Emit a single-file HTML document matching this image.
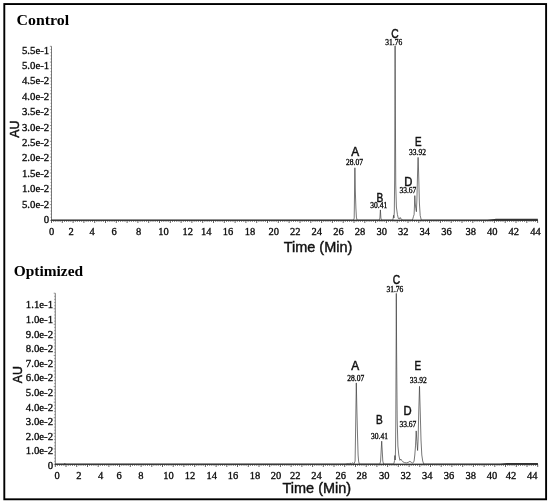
<!DOCTYPE html>
<html><head><meta charset="utf-8"><title>Chromatogram</title>
<style>
html,body{margin:0;padding:0;background:#fff;}
svg{display:block}
.s{font-family:"Liberation Serif",serif;fill:#0a0a0a;stroke:#0a0a0a;stroke-width:0.32}
.h{font-family:"Liberation Sans",sans-serif;fill:#111;stroke:#111;stroke-width:0.3}
.t{font-family:"Liberation Serif",serif;font-weight:bold;font-size:15.2px;fill:#000}
.ax{stroke:#404040;stroke-width:0.7;fill:none}
.tr{stroke:#3c3c3c;stroke-width:0.7;fill:none;stroke-linejoin:round}
</style></head><body>
<svg width="550" height="503" viewBox="0 0 550 503">
<rect x="0" y="0" width="550" height="503" fill="#fff"/>
<rect x="4.3" y="4.05" width="541.8" height="495.25" fill="none" stroke="#000" stroke-width="1.9"/>

<text class="t" style="font-size:15.6px" transform="translate(16.6,25.3) scale(1.015,1)">Control</text>
<text class="t" transform="translate(13.7,276.1) scale(1.015,1)">Optimized</text>
<path class="ax" d="M51.5 46.3 V220.45 H537.6"/>
<path d="M51.5 220.45 v2.5 M62.3 220.45 v2.5 M73.1 220.45 v2.5 M83.9 220.45 v2.5 M94.7 220.45 v2.5 M105.5 220.45 v2.5 M116.3 220.45 v2.5 M127.1 220.45 v2.5 M137.9 220.45 v2.5 M148.7 220.45 v2.5 M159.5 220.45 v2.5 M170.3 220.45 v2.5 M181.1 220.45 v2.5 M191.9 220.45 v2.5 M202.7 220.45 v2.5 M213.5 220.45 v2.5 M224.3 220.45 v2.5 M235.1 220.45 v2.5 M245.9 220.45 v2.5 M256.7 220.45 v2.5 M267.5 220.45 v2.5 M278.3 220.45 v2.5 M289.1 220.45 v2.5 M300.0 220.45 v2.5 M310.8 220.45 v2.5 M321.6 220.45 v2.5 M332.4 220.45 v2.5 M343.2 220.45 v2.5 M354.0 220.45 v2.5 M364.8 220.45 v2.5 M375.6 220.45 v2.5 M386.4 220.45 v2.5 M397.2 220.45 v2.5 M408.0 220.45 v2.5 M418.8 220.45 v2.5 M429.6 220.45 v2.5 M440.4 220.45 v2.5 M451.2 220.45 v2.5 M462.0 220.45 v2.5 M472.8 220.45 v2.5 M483.6 220.45 v2.5 M494.4 220.45 v2.5 M505.2 220.45 v2.5 M516.0 220.45 v2.5 M526.8 220.45 v2.5 M537.6 220.45 v2.5" stroke="#333" stroke-width="0.8" fill="none"/>
<path d="M53.7 220.45 v1.5 M55.8 220.45 v1.5 M58.0 220.45 v1.5 M60.1 220.45 v1.5 M64.5 220.45 v1.5 M66.6 220.45 v1.5 M68.8 220.45 v1.5 M70.9 220.45 v1.5 M75.3 220.45 v1.5 M77.4 220.45 v1.5 M79.6 220.45 v1.5 M81.7 220.45 v1.5 M86.1 220.45 v1.5 M88.2 220.45 v1.5 M90.4 220.45 v1.5 M92.5 220.45 v1.5 M96.9 220.45 v1.5 M99.0 220.45 v1.5 M101.2 220.45 v1.5 M103.4 220.45 v1.5 M107.7 220.45 v1.5 M109.8 220.45 v1.5 M112.0 220.45 v1.5 M114.2 220.45 v1.5 M118.5 220.45 v1.5 M120.6 220.45 v1.5 M122.8 220.45 v1.5 M125.0 220.45 v1.5 M129.3 220.45 v1.5 M131.4 220.45 v1.5 M133.6 220.45 v1.5 M135.8 220.45 v1.5 M140.1 220.45 v1.5 M142.2 220.45 v1.5 M144.4 220.45 v1.5 M146.6 220.45 v1.5 M150.9 220.45 v1.5 M153.0 220.45 v1.5 M155.2 220.45 v1.5 M157.4 220.45 v1.5 M161.7 220.45 v1.5 M163.8 220.45 v1.5 M166.0 220.45 v1.5 M168.2 220.45 v1.5 M172.5 220.45 v1.5 M174.6 220.45 v1.5 M176.8 220.45 v1.5 M179.0 220.45 v1.5 M183.3 220.45 v1.5 M185.4 220.45 v1.5 M187.6 220.45 v1.5 M189.8 220.45 v1.5 M194.1 220.45 v1.5 M196.2 220.45 v1.5 M198.4 220.45 v1.5 M200.6 220.45 v1.5 M204.9 220.45 v1.5 M207.1 220.45 v1.5 M209.2 220.45 v1.5 M211.4 220.45 v1.5 M215.7 220.45 v1.5 M217.9 220.45 v1.5 M220.0 220.45 v1.5 M222.2 220.45 v1.5 M226.5 220.45 v1.5 M228.7 220.45 v1.5 M230.8 220.45 v1.5 M233.0 220.45 v1.5 M237.3 220.45 v1.5 M239.5 220.45 v1.5 M241.6 220.45 v1.5 M243.8 220.45 v1.5 M248.1 220.45 v1.5 M250.3 220.45 v1.5 M252.4 220.45 v1.5 M254.6 220.45 v1.5 M258.9 220.45 v1.5 M261.1 220.45 v1.5 M263.2 220.45 v1.5 M265.4 220.45 v1.5 M269.7 220.45 v1.5 M271.9 220.45 v1.5 M274.0 220.45 v1.5 M276.2 220.45 v1.5 M280.5 220.45 v1.5 M282.7 220.45 v1.5 M284.8 220.45 v1.5 M287.0 220.45 v1.5 M291.3 220.45 v1.5 M293.5 220.45 v1.5 M295.6 220.45 v1.5 M297.8 220.45 v1.5 M302.1 220.45 v1.5 M304.3 220.45 v1.5 M306.4 220.45 v1.5 M308.6 220.45 v1.5 M312.9 220.45 v1.5 M315.1 220.45 v1.5 M317.2 220.45 v1.5 M319.4 220.45 v1.5 M323.7 220.45 v1.5 M325.9 220.45 v1.5 M328.0 220.45 v1.5 M330.2 220.45 v1.5 M334.5 220.45 v1.5 M336.7 220.45 v1.5 M338.8 220.45 v1.5 M341.0 220.45 v1.5 M345.3 220.45 v1.5 M347.5 220.45 v1.5 M349.6 220.45 v1.5 M351.8 220.45 v1.5 M356.1 220.45 v1.5 M358.3 220.45 v1.5 M360.4 220.45 v1.5 M362.6 220.45 v1.5 M366.9 220.45 v1.5 M369.1 220.45 v1.5 M371.2 220.45 v1.5 M373.4 220.45 v1.5 M377.7 220.45 v1.5 M379.9 220.45 v1.5 M382.0 220.45 v1.5 M384.2 220.45 v1.5 M388.5 220.45 v1.5 M390.7 220.45 v1.5 M392.9 220.45 v1.5 M395.0 220.45 v1.5 M399.3 220.45 v1.5 M401.5 220.45 v1.5 M403.7 220.45 v1.5 M405.8 220.45 v1.5 M410.1 220.45 v1.5 M412.3 220.45 v1.5 M414.5 220.45 v1.5 M416.6 220.45 v1.5 M420.9 220.45 v1.5 M423.1 220.45 v1.5 M425.3 220.45 v1.5 M427.4 220.45 v1.5 M431.7 220.45 v1.5 M433.9 220.45 v1.5 M436.1 220.45 v1.5 M438.2 220.45 v1.5 M442.5 220.45 v1.5 M444.7 220.45 v1.5 M446.9 220.45 v1.5 M449.0 220.45 v1.5 M453.3 220.45 v1.5 M455.5 220.45 v1.5 M457.7 220.45 v1.5 M459.8 220.45 v1.5 M464.1 220.45 v1.5 M466.3 220.45 v1.5 M468.5 220.45 v1.5 M470.6 220.45 v1.5 M474.9 220.45 v1.5 M477.1 220.45 v1.5 M479.3 220.45 v1.5 M481.4 220.45 v1.5 M485.7 220.45 v1.5 M487.9 220.45 v1.5 M490.1 220.45 v1.5 M492.2 220.45 v1.5 M496.6 220.45 v1.5 M498.7 220.45 v1.5 M500.9 220.45 v1.5 M503.0 220.45 v1.5 M507.4 220.45 v1.5 M509.5 220.45 v1.5 M511.7 220.45 v1.5 M513.8 220.45 v1.5 M518.2 220.45 v1.5 M520.3 220.45 v1.5 M522.5 220.45 v1.5 M524.6 220.45 v1.5 M529.0 220.45 v1.5 M531.1 220.45 v1.5 M533.3 220.45 v1.5 M535.4 220.45 v1.5" stroke="#444" stroke-width="0.7" fill="none"/>
<path d="M51.15 220.2 H537.6" stroke="#1c1c1c" stroke-width="1.0" fill="none"/>
<path d="M51.5 220.4 h-1.6 M51.5 217.3 h-1.0 M51.5 214.1 h-1.0 M51.5 211.0 h-1.0 M51.5 207.8 h-1.0 M51.5 204.6 h-1.6 M51.5 201.5 h-1.0 M51.5 198.3 h-1.0 M51.5 195.1 h-1.0 M51.5 192.0 h-1.0 M51.5 188.8 h-1.6 M51.5 185.6 h-1.0 M51.5 182.5 h-1.0 M51.5 179.3 h-1.0 M51.5 176.1 h-1.0 M51.5 173.0 h-1.6 M51.5 169.8 h-1.0 M51.5 166.6 h-1.0 M51.5 163.5 h-1.0 M51.5 160.3 h-1.0 M51.5 157.1 h-1.6 M51.5 154.0 h-1.0 M51.5 150.8 h-1.0 M51.5 147.6 h-1.0 M51.5 144.5 h-1.0 M51.5 141.3 h-1.6 M51.5 138.1 h-1.0 M51.5 135.0 h-1.0 M51.5 131.8 h-1.0 M51.5 128.6 h-1.0 M51.5 125.5 h-1.6 M51.5 122.3 h-1.0 M51.5 119.1 h-1.0 M51.5 116.0 h-1.0 M51.5 112.8 h-1.0 M51.5 109.6 h-1.6 M51.5 106.5 h-1.0 M51.5 103.3 h-1.0 M51.5 100.1 h-1.0 M51.5 97.0 h-1.0 M51.5 93.8 h-1.6 M51.5 90.6 h-1.0 M51.5 87.5 h-1.0 M51.5 84.3 h-1.0 M51.5 81.1 h-1.0 M51.5 78.0 h-1.6 M51.5 74.8 h-1.0 M51.5 71.6 h-1.0 M51.5 68.5 h-1.0 M51.5 65.3 h-1.0 M51.5 62.1 h-1.6 M51.5 59.0 h-1.0 M51.5 55.8 h-1.0 M51.5 52.6 h-1.0 M51.5 49.5 h-1.0 M51.5 46.3 h-1.6" stroke="#555" stroke-width="0.6" fill="none"/>
<text class="s" font-size="10.5" text-anchor="end" transform="translate(49.2,53.5) scale(1.03,1)">5.5e-1</text>
<text class="s" font-size="10.5" text-anchor="end" transform="translate(49.2,68.9) scale(1.03,1)">5.0e-1</text>
<text class="s" font-size="10.5" text-anchor="end" transform="translate(49.2,84.3) scale(1.03,1)">4.5e-2</text>
<text class="s" font-size="10.5" text-anchor="end" transform="translate(49.2,99.7) scale(1.03,1)">4.0e-2</text>
<text class="s" font-size="10.5" text-anchor="end" transform="translate(49.2,115.1) scale(1.03,1)">3.5e-2</text>
<text class="s" font-size="10.5" text-anchor="end" transform="translate(49.2,130.5) scale(1.03,1)">3.0e-2</text>
<text class="s" font-size="10.5" text-anchor="end" transform="translate(49.2,145.9) scale(1.03,1)">2.5e-2</text>
<text class="s" font-size="10.5" text-anchor="end" transform="translate(49.2,161.3) scale(1.03,1)">2.0e-2</text>
<text class="s" font-size="10.5" text-anchor="end" transform="translate(49.2,176.7) scale(1.03,1)">1.5e-2</text>
<text class="s" font-size="10.5" text-anchor="end" transform="translate(49.2,192.1) scale(1.03,1)">1.0e-2</text>
<text class="s" font-size="10.5" text-anchor="end" transform="translate(49.2,207.5) scale(1.03,1)">5.0e-2</text>
<text class="s" font-size="10.5" text-anchor="end" transform="translate(49.2,222.9) scale(1.03,1)">0</text>
<text class="s" font-size="10.5" text-anchor="middle" x="51.7" y="235">0</text>
<text class="s" font-size="10.5" text-anchor="middle" x="71" y="235">2</text>
<text class="s" font-size="10.5" text-anchor="middle" x="92.1" y="235">4</text>
<text class="s" font-size="10.5" text-anchor="middle" x="114" y="235">6</text>
<text class="s" font-size="10.5" text-anchor="middle" x="138.5" y="235">8</text>
<text class="s" font-size="10.5" text-anchor="middle" x="163.5" y="235">10</text>
<text class="s" font-size="10.5" text-anchor="middle" x="187.8" y="235">12</text>
<text class="s" font-size="10.5" text-anchor="middle" x="206.3" y="235">14</text>
<text class="s" font-size="10.5" text-anchor="middle" x="228" y="235">16</text>
<text class="s" font-size="10.5" text-anchor="middle" x="249.9" y="235">18</text>
<text class="s" font-size="10.5" text-anchor="middle" x="273.7" y="235">20</text>
<text class="s" font-size="10.5" text-anchor="middle" x="295.2" y="235">22</text>
<text class="s" font-size="10.5" text-anchor="middle" x="316.8" y="235">24</text>
<text class="s" font-size="10.5" text-anchor="middle" x="338.4" y="235">26</text>
<text class="s" font-size="10.5" text-anchor="middle" x="359.9" y="235">28</text>
<text class="s" font-size="10.5" text-anchor="middle" x="381.7" y="235">30</text>
<text class="s" font-size="10.5" text-anchor="middle" x="403.3" y="235">32</text>
<text class="s" font-size="10.5" text-anchor="middle" x="424.7" y="235">34</text>
<text class="s" font-size="10.5" text-anchor="middle" x="446.4" y="235">36</text>
<text class="s" font-size="10.5" text-anchor="middle" x="470.8" y="235">38</text>
<text class="s" font-size="10.5" text-anchor="middle" x="492.2" y="235">40</text>
<text class="s" font-size="10.5" text-anchor="middle" x="513.8" y="235">42</text>
<text class="s" font-size="10.5" text-anchor="middle" x="535.4" y="235">44</text>
<path class="ax" d="M55.3 293.2 V464.45 H537.7"/>
<path d="M55.3 464.45 v2.5 M66.0 464.45 v2.5 M76.7 464.45 v2.5 M87.5 464.45 v2.5 M98.2 464.45 v2.5 M108.9 464.45 v2.5 M119.6 464.45 v2.5 M130.3 464.45 v2.5 M141.1 464.45 v2.5 M151.8 464.45 v2.5 M162.5 464.45 v2.5 M173.2 464.45 v2.5 M183.9 464.45 v2.5 M194.7 464.45 v2.5 M205.4 464.45 v2.5 M216.1 464.45 v2.5 M226.8 464.45 v2.5 M237.5 464.45 v2.5 M248.3 464.45 v2.5 M259.0 464.45 v2.5 M269.7 464.45 v2.5 M280.4 464.45 v2.5 M291.1 464.45 v2.5 M301.9 464.45 v2.5 M312.6 464.45 v2.5 M323.3 464.45 v2.5 M334.0 464.45 v2.5 M344.7 464.45 v2.5 M355.5 464.45 v2.5 M366.2 464.45 v2.5 M376.9 464.45 v2.5 M387.6 464.45 v2.5 M398.3 464.45 v2.5 M409.1 464.45 v2.5 M419.8 464.45 v2.5 M430.5 464.45 v2.5 M441.2 464.45 v2.5 M451.9 464.45 v2.5 M462.7 464.45 v2.5 M473.4 464.45 v2.5 M484.1 464.45 v2.5 M494.8 464.45 v2.5 M505.5 464.45 v2.5 M516.3 464.45 v2.5 M527.0 464.45 v2.5 M537.7 464.45 v2.5" stroke="#333" stroke-width="0.8" fill="none"/>
<path d="M57.4 464.45 v1.5 M59.6 464.45 v1.5 M61.7 464.45 v1.5 M63.9 464.45 v1.5 M68.2 464.45 v1.5 M70.3 464.45 v1.5 M72.5 464.45 v1.5 M74.6 464.45 v1.5 M78.9 464.45 v1.5 M81.0 464.45 v1.5 M83.2 464.45 v1.5 M85.3 464.45 v1.5 M89.6 464.45 v1.5 M91.7 464.45 v1.5 M93.9 464.45 v1.5 M96.0 464.45 v1.5 M100.3 464.45 v1.5 M102.5 464.45 v1.5 M104.6 464.45 v1.5 M106.8 464.45 v1.5 M111.0 464.45 v1.5 M113.2 464.45 v1.5 M115.3 464.45 v1.5 M117.5 464.45 v1.5 M121.8 464.45 v1.5 M123.9 464.45 v1.5 M126.1 464.45 v1.5 M128.2 464.45 v1.5 M132.5 464.45 v1.5 M134.6 464.45 v1.5 M136.8 464.45 v1.5 M138.9 464.45 v1.5 M143.2 464.45 v1.5 M145.3 464.45 v1.5 M147.5 464.45 v1.5 M149.6 464.45 v1.5 M153.9 464.45 v1.5 M156.1 464.45 v1.5 M158.2 464.45 v1.5 M160.4 464.45 v1.5 M164.6 464.45 v1.5 M166.8 464.45 v1.5 M168.9 464.45 v1.5 M171.1 464.45 v1.5 M175.4 464.45 v1.5 M177.5 464.45 v1.5 M179.7 464.45 v1.5 M181.8 464.45 v1.5 M186.1 464.45 v1.5 M188.2 464.45 v1.5 M190.4 464.45 v1.5 M192.5 464.45 v1.5 M196.8 464.45 v1.5 M198.9 464.45 v1.5 M201.1 464.45 v1.5 M203.2 464.45 v1.5 M207.5 464.45 v1.5 M209.7 464.45 v1.5 M211.8 464.45 v1.5 M214.0 464.45 v1.5 M218.2 464.45 v1.5 M220.4 464.45 v1.5 M222.5 464.45 v1.5 M224.7 464.45 v1.5 M229.0 464.45 v1.5 M231.1 464.45 v1.5 M233.3 464.45 v1.5 M235.4 464.45 v1.5 M239.7 464.45 v1.5 M241.8 464.45 v1.5 M244.0 464.45 v1.5 M246.1 464.45 v1.5 M250.4 464.45 v1.5 M252.5 464.45 v1.5 M254.7 464.45 v1.5 M256.8 464.45 v1.5 M261.1 464.45 v1.5 M263.3 464.45 v1.5 M265.4 464.45 v1.5 M267.6 464.45 v1.5 M271.8 464.45 v1.5 M274.0 464.45 v1.5 M276.1 464.45 v1.5 M278.3 464.45 v1.5 M282.6 464.45 v1.5 M284.7 464.45 v1.5 M286.9 464.45 v1.5 M289.0 464.45 v1.5 M293.3 464.45 v1.5 M295.4 464.45 v1.5 M297.6 464.45 v1.5 M299.7 464.45 v1.5 M304.0 464.45 v1.5 M306.1 464.45 v1.5 M308.3 464.45 v1.5 M310.4 464.45 v1.5 M314.7 464.45 v1.5 M316.9 464.45 v1.5 M319.0 464.45 v1.5 M321.2 464.45 v1.5 M325.4 464.45 v1.5 M327.6 464.45 v1.5 M329.7 464.45 v1.5 M331.9 464.45 v1.5 M336.2 464.45 v1.5 M338.3 464.45 v1.5 M340.5 464.45 v1.5 M342.6 464.45 v1.5 M346.9 464.45 v1.5 M349.0 464.45 v1.5 M351.2 464.45 v1.5 M353.3 464.45 v1.5 M357.6 464.45 v1.5 M359.7 464.45 v1.5 M361.9 464.45 v1.5 M364.0 464.45 v1.5 M368.3 464.45 v1.5 M370.5 464.45 v1.5 M372.6 464.45 v1.5 M374.8 464.45 v1.5 M379.0 464.45 v1.5 M381.2 464.45 v1.5 M383.3 464.45 v1.5 M385.5 464.45 v1.5 M389.8 464.45 v1.5 M391.9 464.45 v1.5 M394.1 464.45 v1.5 M396.2 464.45 v1.5 M400.5 464.45 v1.5 M402.6 464.45 v1.5 M404.8 464.45 v1.5 M406.9 464.45 v1.5 M411.2 464.45 v1.5 M413.3 464.45 v1.5 M415.5 464.45 v1.5 M417.6 464.45 v1.5 M421.9 464.45 v1.5 M424.1 464.45 v1.5 M426.2 464.45 v1.5 M428.4 464.45 v1.5 M432.6 464.45 v1.5 M434.8 464.45 v1.5 M436.9 464.45 v1.5 M439.1 464.45 v1.5 M443.4 464.45 v1.5 M445.5 464.45 v1.5 M447.7 464.45 v1.5 M449.8 464.45 v1.5 M454.1 464.45 v1.5 M456.2 464.45 v1.5 M458.4 464.45 v1.5 M460.5 464.45 v1.5 M464.8 464.45 v1.5 M466.9 464.45 v1.5 M469.1 464.45 v1.5 M471.2 464.45 v1.5 M475.5 464.45 v1.5 M477.7 464.45 v1.5 M479.8 464.45 v1.5 M482.0 464.45 v1.5 M486.2 464.45 v1.5 M488.4 464.45 v1.5 M490.5 464.45 v1.5 M492.7 464.45 v1.5 M497.0 464.45 v1.5 M499.1 464.45 v1.5 M501.3 464.45 v1.5 M503.4 464.45 v1.5 M507.7 464.45 v1.5 M509.8 464.45 v1.5 M512.0 464.45 v1.5 M514.1 464.45 v1.5 M518.4 464.45 v1.5 M520.5 464.45 v1.5 M522.7 464.45 v1.5 M524.8 464.45 v1.5 M529.1 464.45 v1.5 M531.3 464.45 v1.5 M533.4 464.45 v1.5 M535.6 464.45 v1.5" stroke="#444" stroke-width="0.7" fill="none"/>
<path d="M54.949999999999996 464.2 H537.7" stroke="#1c1c1c" stroke-width="1.0" fill="none"/>
<path d="M55.3 464.4 h-1.6 M55.3 461.3 h-1.0 M55.3 458.2 h-1.0 M55.3 455.1 h-1.0 M55.3 452.0 h-1.0 M55.3 448.9 h-1.6 M55.3 445.8 h-1.0 M55.3 442.7 h-1.0 M55.3 439.5 h-1.0 M55.3 436.4 h-1.0 M55.3 433.3 h-1.6 M55.3 430.2 h-1.0 M55.3 427.1 h-1.0 M55.3 424.0 h-1.0 M55.3 420.9 h-1.0 M55.3 417.7 h-1.6 M55.3 414.6 h-1.0 M55.3 411.5 h-1.0 M55.3 408.4 h-1.0 M55.3 405.3 h-1.0 M55.3 402.2 h-1.6 M55.3 399.1 h-1.0 M55.3 395.9 h-1.0 M55.3 392.8 h-1.0 M55.3 389.7 h-1.0 M55.3 386.6 h-1.6 M55.3 383.5 h-1.0 M55.3 380.4 h-1.0 M55.3 377.3 h-1.0 M55.3 374.2 h-1.0 M55.3 371.0 h-1.6 M55.3 367.9 h-1.0 M55.3 364.8 h-1.0 M55.3 361.7 h-1.0 M55.3 358.6 h-1.0 M55.3 355.5 h-1.6 M55.3 352.4 h-1.0 M55.3 349.2 h-1.0 M55.3 346.1 h-1.0 M55.3 343.0 h-1.0 M55.3 339.9 h-1.6 M55.3 336.8 h-1.0 M55.3 333.7 h-1.0 M55.3 330.6 h-1.0 M55.3 327.4 h-1.0 M55.3 324.3 h-1.6 M55.3 321.2 h-1.0 M55.3 318.1 h-1.0 M55.3 315.0 h-1.0 M55.3 311.9 h-1.0 M55.3 308.8 h-1.6 M55.3 305.7 h-1.0 M55.3 302.5 h-1.0 M55.3 299.4 h-1.0 M55.3 296.3 h-1.0 M55.3 293.2 h-1.6" stroke="#555" stroke-width="0.6" fill="none"/>
<text class="s" font-size="10.5" text-anchor="end" transform="translate(53.1,308.0) scale(1.03,1)">1.1e-1</text>
<text class="s" font-size="10.5" text-anchor="end" transform="translate(53.1,322.7) scale(1.03,1)">1.0e-1</text>
<text class="s" font-size="10.5" text-anchor="end" transform="translate(53.1,337.5) scale(1.03,1)">9.0e-2</text>
<text class="s" font-size="10.5" text-anchor="end" transform="translate(53.1,352.1) scale(1.03,1)">8.0e-2</text>
<text class="s" font-size="10.5" text-anchor="end" transform="translate(53.1,366.7) scale(1.03,1)">7.0e-2</text>
<text class="s" font-size="10.5" text-anchor="end" transform="translate(53.1,381.3) scale(1.03,1)">6.0e-2</text>
<text class="s" font-size="10.5" text-anchor="end" transform="translate(53.1,395.9) scale(1.03,1)">5.0e-2</text>
<text class="s" font-size="10.5" text-anchor="end" transform="translate(53.1,410.6) scale(1.03,1)">4.0e-2</text>
<text class="s" font-size="10.5" text-anchor="end" transform="translate(53.1,425.3) scale(1.03,1)">3.0e-2</text>
<text class="s" font-size="10.5" text-anchor="end" transform="translate(53.1,439.8) scale(1.03,1)">2.0e-2</text>
<text class="s" font-size="10.5" text-anchor="end" transform="translate(53.1,454.2) scale(1.03,1)">1.0e-2</text>
<text class="s" font-size="10.5" text-anchor="end" transform="translate(53.1,468.7) scale(1.03,1)">0</text>
<text class="s" font-size="10.5" text-anchor="middle" x="57.2" y="478.8">0</text>
<text class="s" font-size="10.5" text-anchor="middle" x="78.9" y="478.8">2</text>
<text class="s" font-size="10.5" text-anchor="middle" x="100.6" y="478.8">4</text>
<text class="s" font-size="10.5" text-anchor="middle" x="119.1" y="478.8">6</text>
<text class="s" font-size="10.5" text-anchor="middle" x="140.8" y="478.8">8</text>
<text class="s" font-size="10.5" text-anchor="middle" x="168.4" y="478.8">10</text>
<text class="s" font-size="10.5" text-anchor="middle" x="190.1" y="478.8">12</text>
<text class="s" font-size="10.5" text-anchor="middle" x="211.7" y="478.8">14</text>
<text class="s" font-size="10.5" text-anchor="middle" x="233.1" y="478.8">16</text>
<text class="s" font-size="10.5" text-anchor="middle" x="254.9" y="478.8">18</text>
<text class="s" font-size="10.5" text-anchor="middle" x="276" y="478.8">20</text>
<text class="s" font-size="10.5" text-anchor="middle" x="295.2" y="478.8">22</text>
<text class="s" font-size="10.5" text-anchor="middle" x="316.5" y="478.8">24</text>
<text class="s" font-size="10.5" text-anchor="middle" x="340.8" y="478.8">26</text>
<text class="s" font-size="10.5" text-anchor="middle" x="361.8" y="478.8">28</text>
<text class="s" font-size="10.5" text-anchor="middle" x="384.2" y="478.8">30</text>
<text class="s" font-size="10.5" text-anchor="middle" x="405.8" y="478.8">32</text>
<text class="s" font-size="10.5" text-anchor="middle" x="427.3" y="478.8">34</text>
<text class="s" font-size="10.5" text-anchor="middle" x="449.1" y="478.8">36</text>
<text class="s" font-size="10.5" text-anchor="middle" x="470.8" y="478.8">38</text>
<text class="s" font-size="10.5" text-anchor="middle" x="492.1" y="478.8">40</text>
<text class="s" font-size="10.5" text-anchor="middle" x="511" y="478.8">42</text>
<text class="s" font-size="10.5" text-anchor="middle" x="532.2" y="478.8">44</text>
<text class="h" font-size="13.7" text-anchor="middle" style="stroke-width:0.5" transform="translate(19.1,129.1) rotate(-90) scale(0.9,1)">AU</text>
<text class="h" font-size="13.7" text-anchor="middle" style="stroke-width:0.5" transform="translate(22.2,374.7) rotate(-90) scale(0.9,1)">AU</text>
<text class="h" font-size="14" text-anchor="middle" style="stroke-width:0.4" transform="translate(318,251.6) scale(1.035,1)">Time (Min)</text>
<text class="h" font-size="14" text-anchor="middle" style="stroke-width:0.4" transform="translate(316.8,492.6) scale(1.035,1)">Time (Min)</text>
<text class="h" font-size="12.8" text-anchor="middle" style="stroke-width:0.5" transform="translate(355.1,156) scale(0.93,1)">A</text>
<text class="s" font-size="7.2" text-anchor="middle" style="stroke-width:0.3" transform="translate(354.5,165.4) scale(1.045,1)">28.07</text>
<text class="h" font-size="12.8" text-anchor="middle" style="stroke-width:0.5" transform="translate(379.8,201.8) scale(0.79,1)">B</text>
<text class="s" font-size="7.2" text-anchor="middle" style="stroke-width:0.3" transform="translate(378.8,207.6) scale(1.045,1)">30.41</text>
<text class="h" font-size="12.8" text-anchor="middle" style="stroke-width:0.5" transform="translate(395,38) scale(0.8,1)">C</text>
<text class="s" font-size="7.2" text-anchor="middle" style="stroke-width:0.3" transform="translate(393.8,44.7) scale(1.045,1)">31.76</text>
<text class="h" font-size="12.8" text-anchor="middle" style="stroke-width:0.5" transform="translate(408.3,185.8) scale(0.88,1)">D</text>
<text class="s" font-size="7.2" text-anchor="middle" style="stroke-width:0.3" transform="translate(407.9,192.7) scale(1.045,1)">33.67</text>
<text class="h" font-size="12.8" text-anchor="middle" style="stroke-width:0.5" transform="translate(418.2,145.7) scale(0.77,1)">E</text>
<text class="s" font-size="7.2" text-anchor="middle" style="stroke-width:0.3" transform="translate(417.5,154.6) scale(1.045,1)">33.92</text>
<text class="h" font-size="12.8" text-anchor="middle" style="stroke-width:0.5" transform="translate(355.1,370.3) scale(0.93,1)">A</text>
<text class="s" font-size="7.2" text-anchor="middle" style="stroke-width:0.3" transform="translate(355.7,380.5) scale(1.045,1)">28.07</text>
<text class="h" font-size="12.8" text-anchor="middle" style="stroke-width:0.5" transform="translate(379.4,423.8) scale(0.79,1)">B</text>
<text class="s" font-size="7.2" text-anchor="middle" style="stroke-width:0.3" transform="translate(379.5,438.7) scale(1.045,1)">30.41</text>
<text class="h" font-size="12.8" text-anchor="middle" style="stroke-width:0.5" transform="translate(396.5,283.6) scale(0.8,1)">C</text>
<text class="s" font-size="7.2" text-anchor="middle" style="stroke-width:0.3" transform="translate(394.9,291.5) scale(1.045,1)">31.76</text>
<text class="h" font-size="12.8" text-anchor="middle" style="stroke-width:0.5" transform="translate(407.5,414.8) scale(0.88,1)">D</text>
<text class="s" font-size="7.2" text-anchor="middle" style="stroke-width:0.3" transform="translate(407.9,427.4) scale(1.045,1)">33.67</text>
<text class="h" font-size="12.8" text-anchor="middle" style="stroke-width:0.5" transform="translate(417.7,370.2) scale(0.77,1)">E</text>
<text class="s" font-size="7.2" text-anchor="middle" style="stroke-width:0.3" transform="translate(418.2,383) scale(1.045,1)">33.92</text>
<path d="M484 220.5 L496 218.79999999999998 L537.8 218.7 L537.8 220.9 L484 220.9 Z" fill="#303030"/>
<path class="tr" d="M51.5 220.1 L353.6 220.1 L354.2 218.1 L354.5 195 L354.9 167.8 L355.3 190 L355.9 208 L356.4 217.1 L357 220.1
L379.2 220.1 L379.9 218.1 L380.4 209.9 L380.9 218.1 L381.6 220.1
L392.8 220.1 L393.3 217.5 L393.6 215.3 L393.9 218 L394.3 212 L394.65 180 L394.95 100 L395.1 45.8 L395.3 100 L395.75 185 L396.4 207 L397.4 214.5 L398.3 218.4 L399.4 219 L400.2 217.5 L401.2 219.2 L403 220.1
L412.3 220.1 L413 218.2 L413.5 216.3 L414.1 214.6 L414.5 205 L414.8 195.6 L415.2 203 L415.8 208.5 L416.4 211.7 L416.9 200 L417.6 172 L418.1 157.4 L418.6 172 L419.4 203 L420.2 215.5 L421.3 220.1 L423 220.1
L537.6 220.1"/>
<path d="M497 464.5 L507 463.1 L537.9 463.0 L537.9 464.90000000000003 L497 464.90000000000003 Z" fill="#303030"/>
<path class="tr" d="M55.3 464.1 L64.3 464.1 L64.8 463.1 L65.3 464.1 L345 464.1 L348 463.6 L350 464.1 L350.4 462.90000000000003 L351.4 464.1  L352.9 462.70000000000005 L354 463.8 L355.1 461.1 L355.6 430 L356.3 382.9 L356.9 410 L357.5 435 L358.1 455 L358.6 461.1 L359.3 464.1
L379.8 464.1 L380.6 461.1 L381.2 450 L381.7 441.2 L382.2 450 L382.8 461.1 L383.6 464.1
L393.3 464.1 L394 463.1 L394.6 460.5 L394.9 455.5 L395.2 460 L395.5 450 L395.8 420 L396.1 350 L396.3 293.4 L396.6 350 L397.2 420 L397.9 446 L398.8 455 L399.9 460.3 L400.9 459.1 L401.8 460.6 L402.9 461.8 L404.5 462.6 L406.4 462.9 L408.2 462.4 L409.9 461.3 L411.3 462.3 L412.7 463.2 L413.5 462.2 L414.1 461 L414.8 455 L415.5 445.9 L416.2 430.9 L416.9 441.7 L417.6 450.5 L418.1 440 L418.8 410 L419.5 386.3 L420.2 410 L421 440 L421.8 455 L422.7 461 L423.8 464.1 L426 464.1
L537.7 464.1"/>
</svg></body></html>
